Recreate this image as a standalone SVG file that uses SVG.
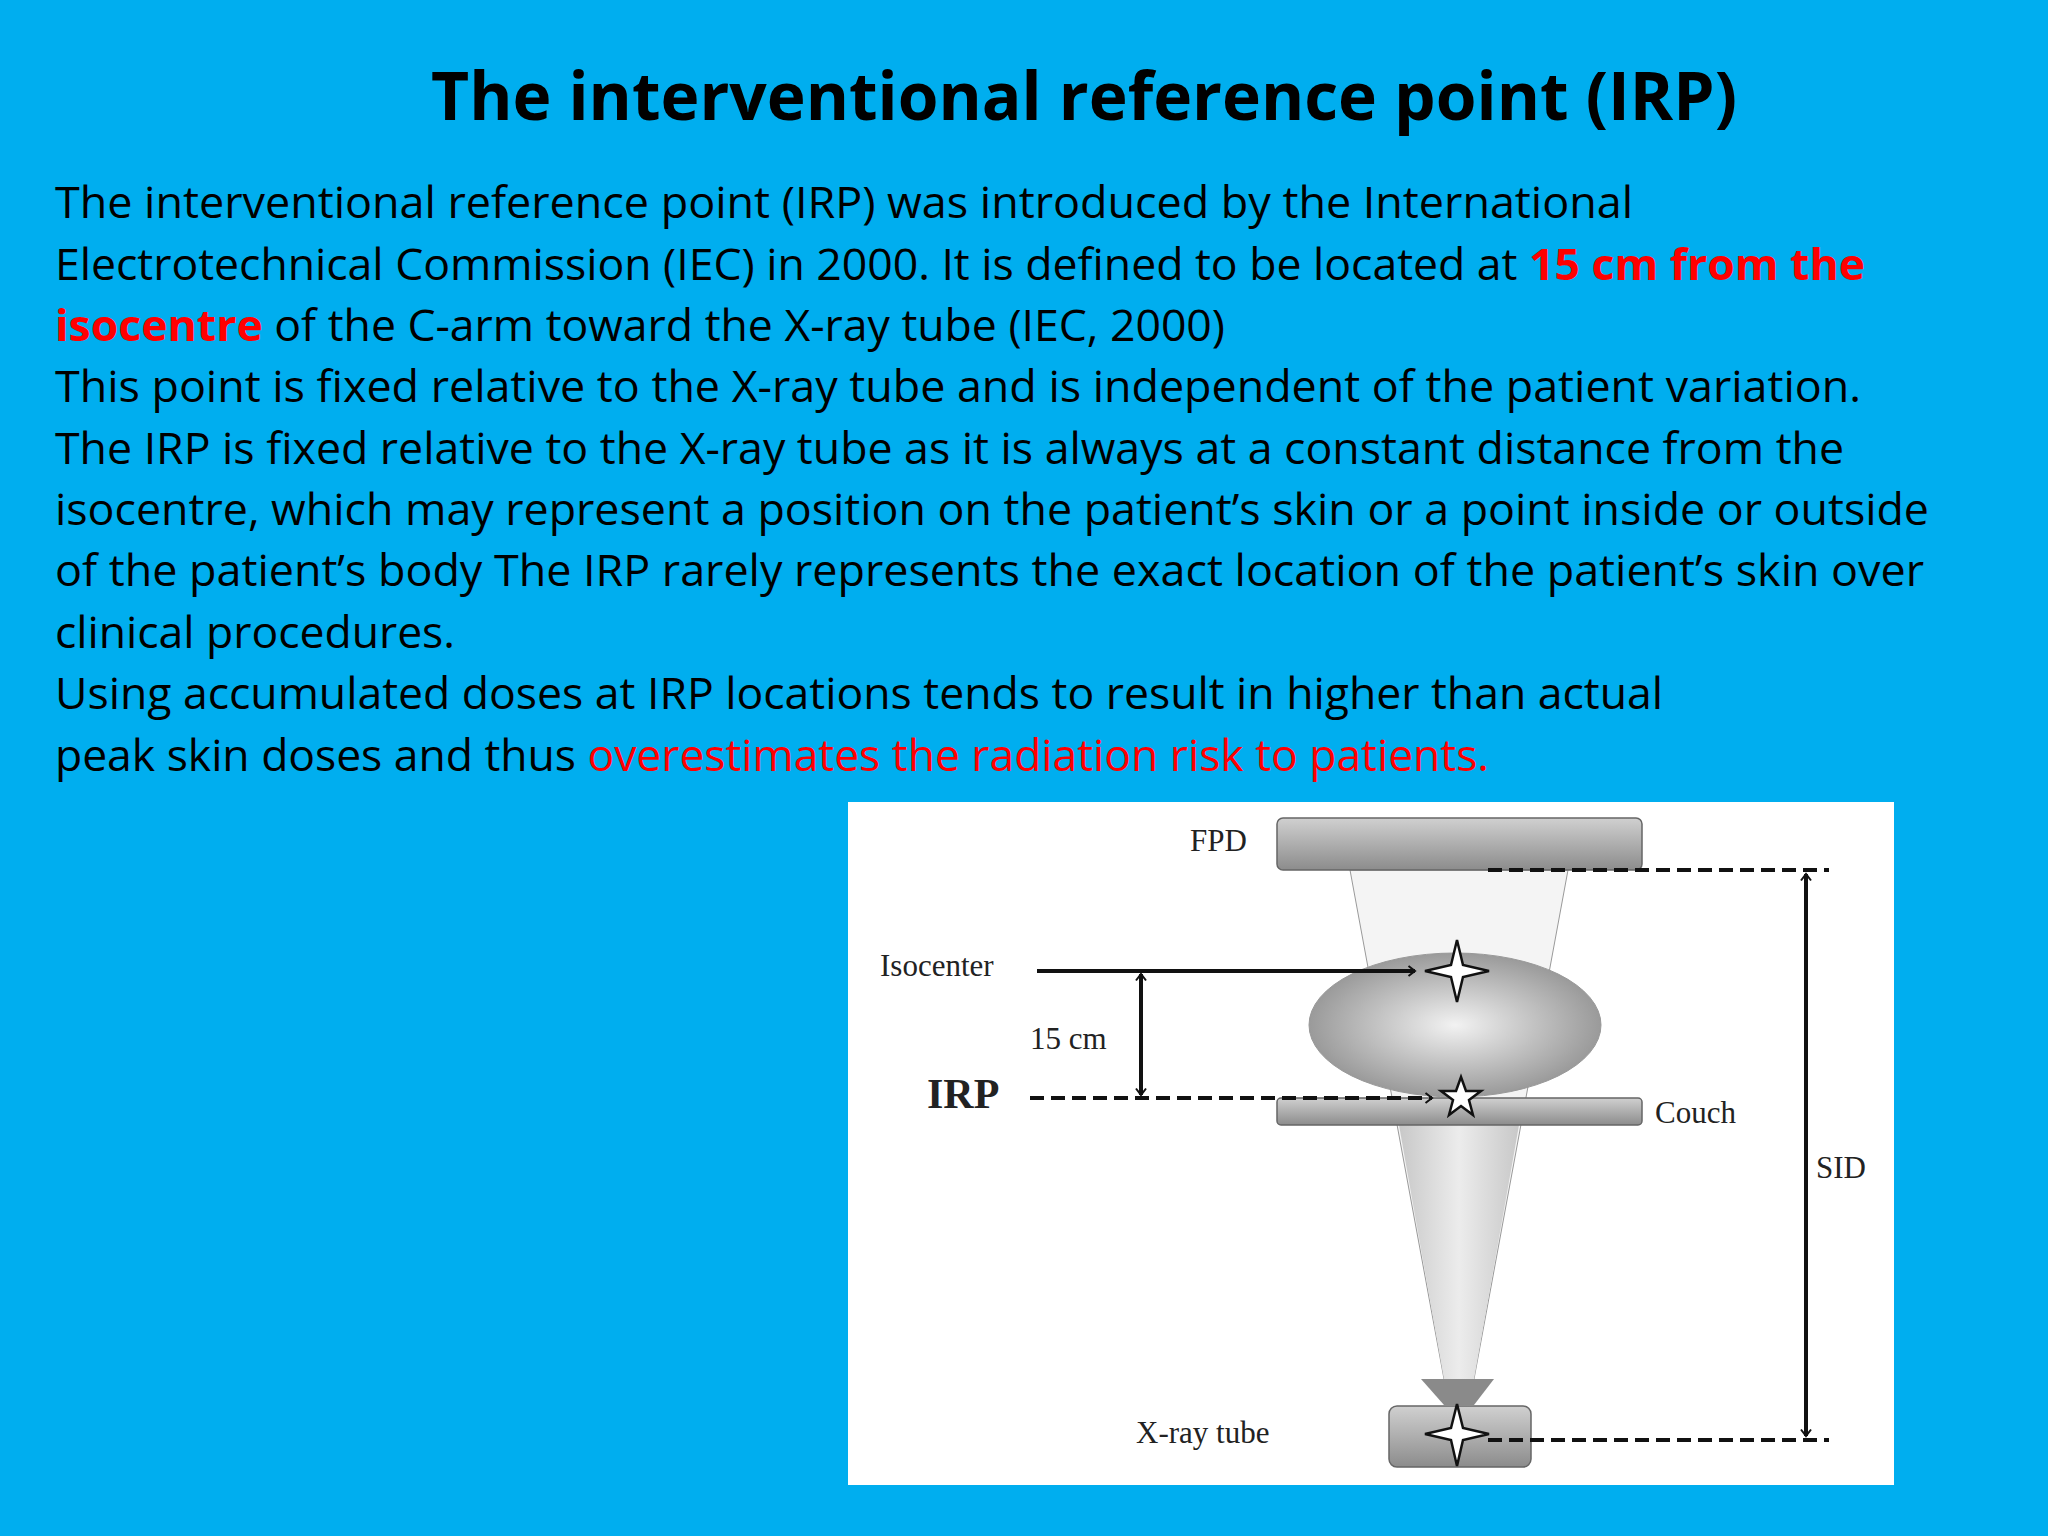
<svg xmlns="http://www.w3.org/2000/svg" width="2048" height="1536" viewBox="0 0 2048 1536">
<defs>
<style>
.b{font-family:"Open Sans","Noto Sans",sans-serif;font-size:43px;fill:#000}
.r{fill:#ff0000}
.t{font-family:"Liberation Serif",serif;font-size:31px;fill:#222}
.bar{fill:url(#gbar);stroke:#666;stroke-width:1.5}
.dash{stroke:#111;stroke-width:4;stroke-dasharray:14 7;fill:none}
.sol{stroke:#111;stroke-width:4;fill:none}
.star{fill:#fff;stroke:#111;stroke-width:2.5}
</style>
<linearGradient id="gbar" x1="0" y1="0" x2="0" y2="1"><stop offset="0" stop-color="#d0d0d0"/><stop offset="1" stop-color="#8c8c8c"/></linearGradient>
<radialGradient id="gell" cx="0.5" cy="0.5" r="0.5"><stop offset="0" stop-color="#f2f2f2"/><stop offset="1" stop-color="#9a9a9a"/></radialGradient>
<linearGradient id="gbeam" x1="0" y1="0" x2="1" y2="0"><stop offset="0" stop-color="#c8c8c8"/><stop offset="0.5" stop-color="#ececec"/><stop offset="1" stop-color="#c8c8c8"/></linearGradient>
<marker id="ah" viewBox="0 0 12 12" refX="11" refY="6" markerWidth="6" markerHeight="6" orient="auto-start-reverse" markerUnits="userSpaceOnUse" style="overflow:visible"><path d="M-2,-4 L11,6 L-2,16" fill="none" stroke="#111" stroke-width="4" transform="scale(1)"/></marker>
</defs>
<rect width="2048" height="1536" fill="#00aeef"/>
<text x="1084" y="120" text-anchor="middle" font-family="'Open Sans','Noto Sans',sans-serif" font-weight="bold" font-size="66" textLength="1306" lengthAdjust="spacingAndGlyphs">The interventional reference point (IRP)</text>
<g id="body">
<text class="b" x="55" y="218" textLength="1578" lengthAdjust="spacingAndGlyphs">The interventional reference point (IRP) was introduced by the International</text>
<text class="b" x="55" y="280" textLength="1810" lengthAdjust="spacingAndGlyphs">Electrotechnical Commission (IEC) in 2000. It is defined to be located at <tspan class="r" font-weight="bold">15 cm from the</tspan></text>
<text class="b" x="55" y="341" textLength="1170" lengthAdjust="spacingAndGlyphs"><tspan class="r" font-weight="bold">isocentre</tspan> of the C-arm toward the X-ray tube (IEC, 2000)</text>
<text class="b" x="55" y="402" textLength="1806" lengthAdjust="spacingAndGlyphs">This point is fixed relative to the X-ray tube and is independent of the patient variation.</text>
<text class="b" x="55" y="464" textLength="1789" lengthAdjust="spacingAndGlyphs">The IRP is fixed relative to the X-ray tube as it is always at a constant distance from the</text>
<text class="b" x="55" y="525" textLength="1874" lengthAdjust="spacingAndGlyphs">isocentre, which may represent a position on the patient’s skin or a point inside or outside</text>
<text class="b" x="55" y="586" textLength="1869" lengthAdjust="spacingAndGlyphs">of the patient’s body The IRP rarely represents the exact location of the patient’s skin over</text>
<text class="b" x="55" y="648" textLength="400" lengthAdjust="spacingAndGlyphs">clinical procedures.</text>
<text class="b" x="55" y="709" textLength="1608" lengthAdjust="spacingAndGlyphs">Using accumulated doses at IRP locations tends to result in higher than actual</text>
<text class="b" x="55" y="771" textLength="1434" lengthAdjust="spacingAndGlyphs">peak skin doses and thus <tspan class="r">overestimates the radiation risk to patients.</tspan></text>
</g>
<rect x="848" y="802" width="1046" height="683" fill="#fff"/>
<g id="beam">
<polygon points="1350,870 1568,870 1474,1379 1444,1379" fill="#f4f4f4" stroke="#999" stroke-width="1"/>
<polygon points="1399,1125 1519,1125 1474,1379 1444,1379" fill="url(#gbeam)"/>
<polygon points="1421,1379 1494,1379 1474,1405 1444,1405" fill="#8a8a8a"/>
</g>
<g id="fpd"><rect class="bar" x="1277" y="818" width="365" height="52" rx="6"/><text class="t" x="1190" y="851">FPD</text></g>
<g id="patient"><ellipse cx="1455" cy="1025" rx="146" ry="72" fill="url(#gell)" stroke="#999" stroke-width="1"/></g>
<g id="couch"><rect class="bar" x="1277" y="1098" width="365" height="27" rx="4"/><text class="t" x="1655" y="1123">Couch</text></g>
<g id="tube"><rect class="bar" x="1389" y="1406" width="142" height="61" rx="8"/><text class="t" x="1136" y="1443">X-ray tube</text></g>
<g id="labels">
<text class="t" x="880" y="976">Isocenter</text>
<text class="t" x="1030" y="1049">15 cm</text>
<text x="927" y="1108" font-family="'Liberation Serif',serif" font-weight="bold" font-size="42" fill="#222">IRP</text>
<text class="t" x="1816" y="1178">SID</text>
</g>
<g id="connectors">
<line class="sol" x1="1037" y1="971" x2="1415" y2="971" marker-end="url(#ah)"/>
<line class="sol" x1="1141" y1="974" x2="1141" y2="1095" marker-start="url(#ah)" marker-end="url(#ah)"/>
<line class="dash" x1="1030" y1="1098" x2="1432" y2="1098" marker-end="url(#ah)"/>
<line class="dash" x1="1488" y1="870" x2="1829" y2="870"/>
<line class="dash" x1="1488" y1="1440" x2="1829" y2="1440"/>
<line class="sol" x1="1806" y1="874" x2="1806" y2="1436" marker-start="url(#ah)" marker-end="url(#ah)"/>
</g>
<g id="stars">
<path class="star" d="M1457,940 L1463,965 L1489,971 L1463,977 L1457,1002 L1451,977 L1425,971 L1451,965 Z"/>
<path class="star" d="M1461,1077 L1466,1091 L1481,1091 L1469,1100 L1473,1115 L1461,1106 L1449,1115 L1453,1100 L1441,1091 L1456,1091 Z"/>
<path class="star" d="M1457,1404 L1463,1428 L1489,1434 L1463,1440 L1457,1466 L1451,1440 L1425,1434 L1451,1428 Z"/>
</g>
</svg>
